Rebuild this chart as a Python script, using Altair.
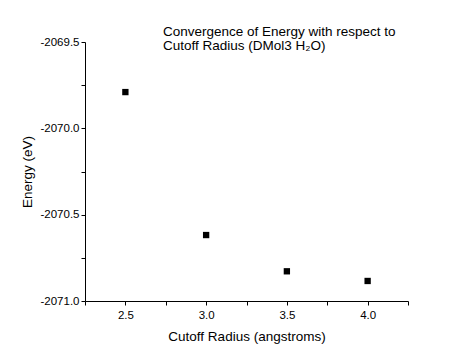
import altair as alt
import pandas as pd

cutoff = [2.5, 3.0, 3.5, 4.0]
energy = [-2069.79, -2070.618, -2070.828, -2070.884]

x_ticks = [2.25, 2.5, 2.75, 3.0, 3.25, 3.5, 3.75, 4.0, 4.25]
y_ticks = [-2071.0, -2070.75, -2070.5, -2070.25, -2070.0, -2069.75, -2069.5]

df = pd.DataFrame({"cutoff": cutoff, "energy": energy})

FONT = "Liberation Sans"

chart = alt.Chart(df).mark_square(size=40, color="black", opacity=1).encode(
    x=alt.X("cutoff:Q", scale=alt.Scale(domain=[2.25, 4.25], nice=False, zero=False),
            axis=alt.Axis(values=x_ticks, title="Cutoff Radius (angstroms)", grid=False,
                          labelExpr="(datum.value*100) % 50 == 0 && datum.value > 2.3 && datum.value < 4.2 ? format(datum.value, '.1f') : ''",
                          tickSize=4, labelPadding=4, titlePadding=9)),
    y=alt.Y("energy:Q", scale=alt.Scale(domain=[-2071.0, -2069.5], nice=False, zero=False),
            axis=alt.Axis(values=y_ticks, title="Energy (eV)", grid=False,
                          labelExpr="abs(datum.value*100) % 50 == 0 ? replace(format(datum.value, '.1f'), '\u2212', '-') : ''",
                          tickSize=4, labelPadding=2, titlePadding=5)),
).properties(
    width=323, height=259,
    title=alt.TitleParams(
        text=["Convergence of Energy with respect to", "Cutoff Radius (DMol3 H\u2082O)"],
        anchor="start", frame="group", dx=78, offset=-16, fontSize=13.5, font=FONT, fontWeight="normal",
        lineHeight=14, color="black",
    ),
    autosize=alt.AutoSizeParams(type="none"),
    padding={"left": 77, "top": 34, "right": 50, "bottom": 50},
).configure_view(stroke=None).configure_axis(
    domainColor="black", tickColor="black", labelColor="black", titleColor="black",
    labelFont=FONT, titleFont=FONT, labelFontSize=11.5, titleFontSize=13.5, titleFontWeight="normal",
    domainWidth=1, tickWidth=1,
)

chart.save("out.html", embed_options={"renderer": "svg", "actions": False})
